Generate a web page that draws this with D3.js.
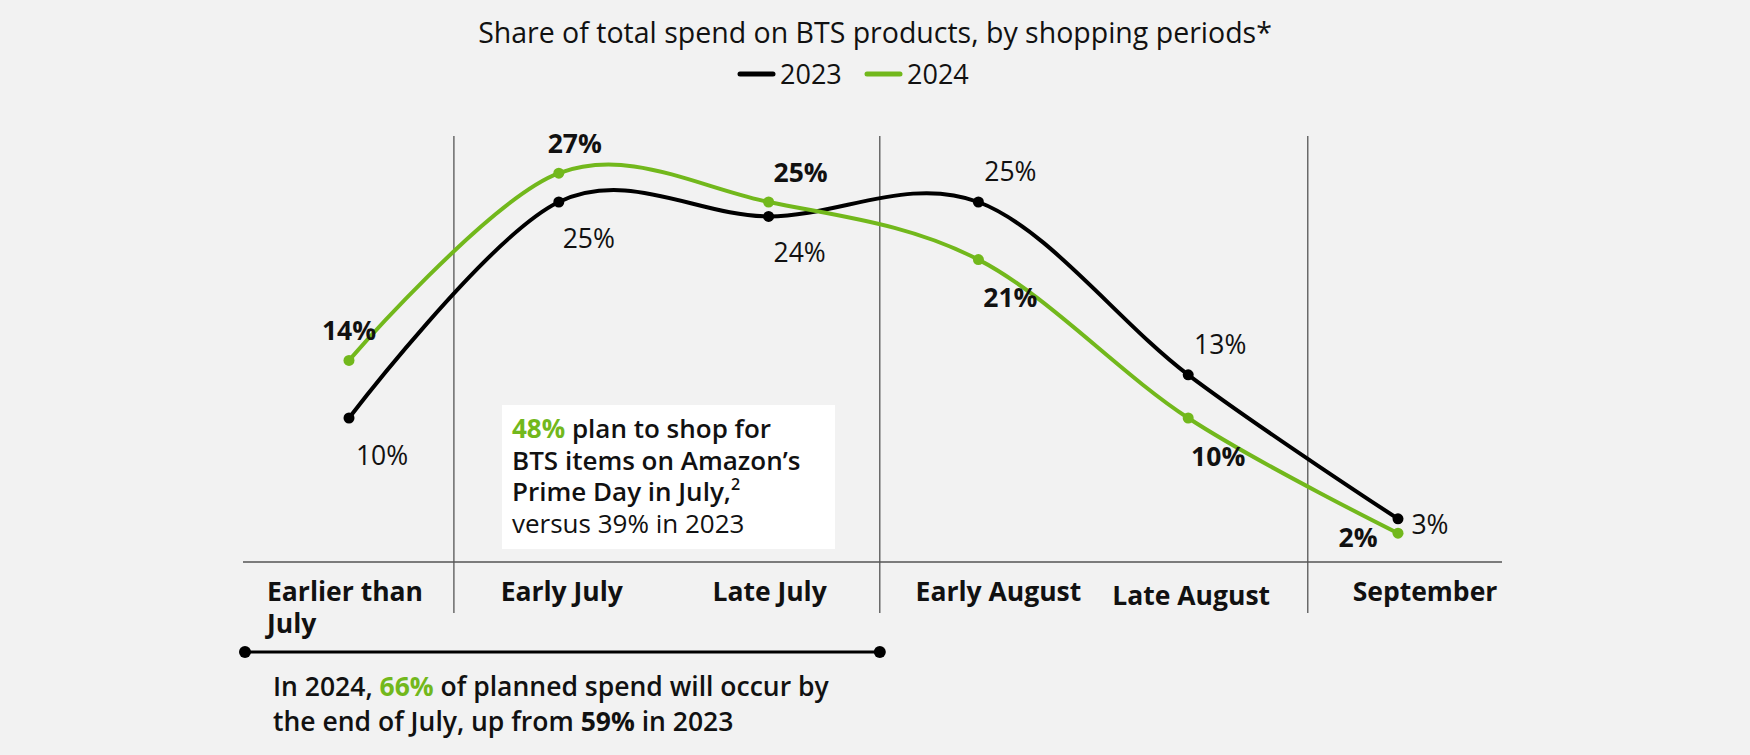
<!DOCTYPE html>
<html>
<head>
<meta charset="utf-8">
<script src="https://cdn.jsdelivr.net/npm/d3@7"></script>
<style>
  body { margin: 0; background: #f2f2f2; }
  svg { display: block; font-family: "Open Sans", sans-serif; }
</style>
</head>
<body>
<div id="chart"></div>
<script>
// chart data
const categories = ["Earlier than July", "Early July", "Late July", "Early August", "Late August", "September"];
const values2023 = [10, 25, 24, 25, 13, 3];
const values2024 = [14, 27, 25, 21, 10, 2];
const years = ["2023", "2024"];
// boundaries between shopping periods, in category units
const separators = [0.5, 2.53, 4.57];

const width = 1750, height = 755;
const black = "#000", green = "#72b81c";
const fs = "26.5px";

const svg = d3.select("#chart")
  .append("svg")
  .attr("width", width)
  .attr("height", height);

svg.append("rect").attr("width", width).attr("height", height).attr("fill", "#f2f2f2");

// scales
const x = d3.scaleLinear().domain([0, 5]).range([349, 1398]);
const y = d3.scaleLinear().domain([0, 30]).range([562, 130]);

// title + legend
svg.append("text")
  .attr("x", 875).attr("y", 43)
  .attr("text-anchor", "middle")
  .attr("font-size", "28.5px")
  .attr("fill", "#111")
  .text("Share of total spend on BTS products, by shopping periods*");

const legend = svg.append("g").attr("transform", "translate(740,74)");
years.forEach((yr, i) => {
  const g = legend.append("g").attr("transform", `translate(${i * 127},0)`);
  g.append("line")
    .attr("x1", 0).attr("x2", 33)
    .attr("stroke", i === 0 ? black : green)
    .attr("stroke-width", 5)
    .attr("stroke-linecap", "round");
  g.append("text")
    .attr("x", 40).attr("y", 10)
    .attr("font-size", "27px")
    .attr("fill", "#111")
    .text(yr);
});

// separators + baseline
svg.selectAll(".sep")
  .data(separators)
  .join("line")
  .attr("class", "sep")
  .attr("x1", d => x(d)).attr("x2", d => x(d))
  .attr("y1", 136).attr("y2", 613)
  .attr("stroke", "#555")
  .attr("stroke-width", 1.3);

svg.append("line")
  .attr("x1", 243).attr("x2", 1502)
  .attr("y1", y(0)).attr("y2", y(0))
  .attr("stroke", "#555")
  .attr("stroke-width", 1.6);

// annotation box
const box = svg.append("g").attr("transform", "translate(502,405)");
box.append("rect").attr("width", 333).attr("height", 144).attr("fill", "#fff");
const boxLines = [
  [{ t: "48%", c: green, w: 700 }, { t: " plan to shop for", c: "#111", w: 600 }],
  [{ t: "BTS items on Amazon’s", c: "#111", w: 600 }],
  [{ t: "Prime Day in July,", c: "#111", w: 600 }, { t: "2", c: "#111", w: 600, sup: true }],
  [{ t: "versus 39% in 2023", c: "#111", w: 400 }]
];
boxLines.forEach((parts, i) => {
  const t = box.append("text")
    .attr("x", 10).attr("y", 33 + i * 31.5)
    .attr("font-size", "26px");
  parts.forEach(p => {
    const s = t.append("tspan")
      .attr("fill", p.c)
      .attr("font-weight", p.w)
      .text(p.t);
    if (p.sup) s.attr("font-size", "16px").attr("dy", -11);
  });
});

// lines
const line = d3.line()
  .x((d, i) => x(i))
  .y(d => y(d))
  .curve(d3.curveCardinal.tension(0));

[[values2023, black], [values2024, green]].forEach(([vals, col]) => {
  svg.append("path")
    .datum(vals)
    .attr("fill", "none")
    .attr("stroke", col)
    .attr("stroke-width", 4)
    .attr("d", line);
  svg.selectAll(null)
    .data(vals)
    .join("circle")
    .attr("cx", (d, i) => x(i))
    .attr("cy", d => y(d))
    .attr("r", 5.5)
    .attr("fill", col);
});

// value labels: offsets relative to each point
const off2023 = [[33, 37], [30, 36], [31, 36], [32, -31], [32, -31], [32, 5]];
const off2024 = [[0, -30], [16, -30], [32, -30], [32, 37], [30, 38], [-40, 4]];

svg.selectAll(".lab23")
  .data(values2023)
  .join("text")
  .attr("class", "lab23")
  .attr("x", (d, i) => x(i) + off2023[i][0])
  .attr("y", (d, i) => y(d) + off2023[i][1])
  .attr("text-anchor", "middle")
  .attr("dominant-baseline", "central")
  .attr("font-size", fs)
  .attr("fill", "#111")
  .text(d => d + "%");

svg.selectAll(".lab24")
  .data(values2024)
  .join("text")
  .attr("class", "lab24")
  .attr("x", (d, i) => x(i) + off2024[i][0])
  .attr("y", (d, i) => y(d) + off2024[i][1])
  .attr("text-anchor", "middle")
  .attr("dominant-baseline", "central")
  .attr("font-size", fs)
  .attr("font-weight", 700)
  .attr("fill", "#111")
  .text(d => d + "%");

// category labels
const catOff = [[-4, 0], [3, 0], [1, 0], [20, 0], [3, 4], [27, 0]];
categories.forEach((c, i) => {
  const t = svg.append("text")
    .attr("font-size", fs)
    .attr("font-weight", 700)
    .attr("fill", "#111");
  if (i === 0) {
    t.append("tspan").attr("x", 267).attr("y", 601).text("Earlier than");
    t.append("tspan").attr("x", 267).attr("y", 633).text("July");
  } else {
    t.attr("x", x(i) + catOff[i][0])
      .attr("y", 601 + catOff[i][1])
      .attr("text-anchor", "middle")
      .text(c);
  }
});

// bracket for "by end of July"
svg.append("line")
  .attr("x1", 245).attr("x2", x(separators[1]))
  .attr("y1", 652).attr("y2", 652)
  .attr("stroke", black).attr("stroke-width", 3);
svg.selectAll(".bdot")
  .data([245, x(separators[1])])
  .join("circle")
  .attr("class", "bdot")
  .attr("cx", d => d).attr("cy", 652).attr("r", 6)
  .attr("fill", black);

const bottomLines = [
  [{ t: "In 2024, ", c: "#111", w: 600 }, { t: "66%", c: green, w: 700 }, { t: " of planned spend will occur by", c: "#111", w: 600 }],
  [{ t: "the end of July, up from ", c: "#111", w: 600 }, { t: "59%", c: "#111", w: 700 }, { t: " in 2023", c: "#111", w: 600 }]
];
bottomLines.forEach((parts, i) => {
  const t = svg.append("text")
    .attr("x", 273).attr("y", 696 + i * 35)
    .attr("font-size", fs);
  parts.forEach(p => t.append("tspan").attr("fill", p.c).attr("font-weight", p.w).text(p.t));
});
</script>
</body>
</html>
